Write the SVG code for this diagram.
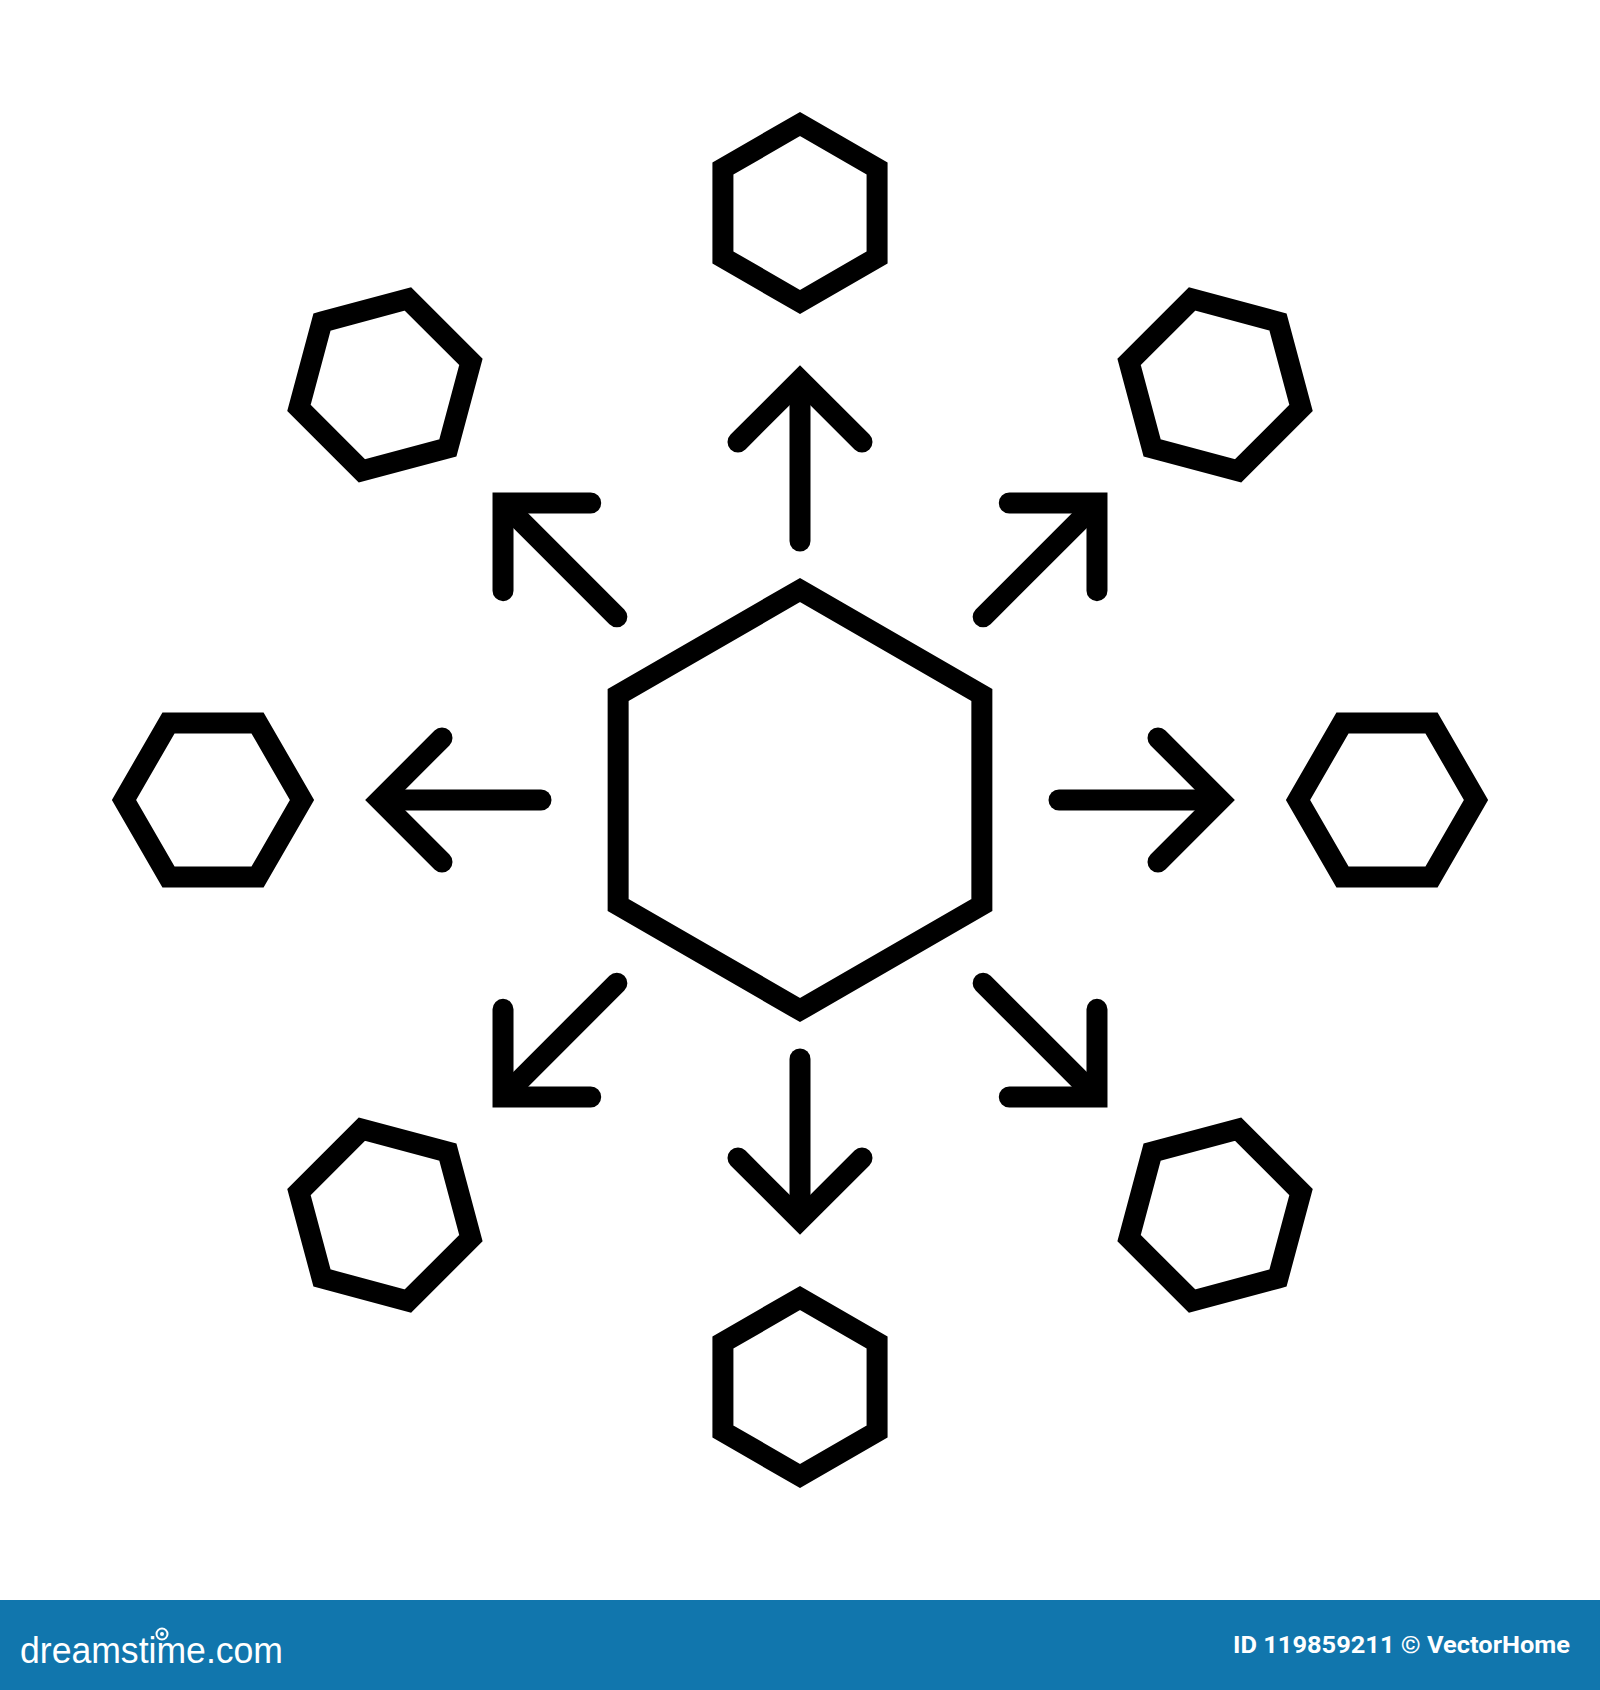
<svg xmlns="http://www.w3.org/2000/svg" xmlns:xlink="http://www.w3.org/1999/xlink" width="1600" height="1690" viewBox="0 0 1600 1690">
<style>
.ln{fill:none;stroke:#000;stroke-width:21;stroke-linejoin:miter;stroke-miterlimit:10;stroke-linecap:round}
.hx{fill:none;stroke:#000;stroke-width:21;stroke-linejoin:miter;stroke-miterlimit:10}
.brand{font-family:"Liberation Sans","DejaVu Sans",sans-serif;fill:#fff}
.idt{font-family:Roboto,"Liberation Sans",sans-serif;fill:#fff;font-weight:bold}
</style>
<defs>
<path id="smallHex" class="hx" d="M800,124 L877.08,168.5 L877.08,257.5 L800,302 L722.92,257.5 L722.92,168.5 Z"/>
<g id="arrowUp">
<path class="ln" d="M800,541 L800,386"/>
<path class="ln" d="M738,442 L800,380 L862,442"/>
</g>
</defs>
<rect x="0" y="0" width="1600" height="1690" fill="#fff"/>

<g id="center-node">
<path class="hx" d="M800,590 L981.86,695 L981.86,905 L800,1010 L618.14,905 L618.14,695 Z"/>
</g>

<g id="node-top"><use xlink:href="#smallHex" href="#smallHex"/></g>
<g id="node-top-right"><use xlink:href="#smallHex" href="#smallHex" transform="rotate(45 800 800)"/></g>
<g id="node-right"><use xlink:href="#smallHex" href="#smallHex" transform="rotate(90 800 800)"/></g>
<g id="node-bottom-right"><use xlink:href="#smallHex" href="#smallHex" transform="rotate(135 800 800)"/></g>
<g id="node-bottom"><use xlink:href="#smallHex" href="#smallHex" transform="rotate(180 800 800)"/></g>
<g id="node-bottom-left"><use xlink:href="#smallHex" href="#smallHex" transform="rotate(225 800 800)"/></g>
<g id="node-left"><use xlink:href="#smallHex" href="#smallHex" transform="rotate(270 800 800)"/></g>
<g id="node-top-left"><use xlink:href="#smallHex" href="#smallHex" transform="rotate(315 800 800)"/></g>

<g id="connectors">
<use xlink:href="#arrowUp" href="#arrowUp"/>
<use xlink:href="#arrowUp" href="#arrowUp" transform="rotate(45 800 800)"/>
<use xlink:href="#arrowUp" href="#arrowUp" transform="rotate(90 800 800)"/>
<use xlink:href="#arrowUp" href="#arrowUp" transform="rotate(135 800 800)"/>
<use xlink:href="#arrowUp" href="#arrowUp" transform="rotate(180 800 800)"/>
<use xlink:href="#arrowUp" href="#arrowUp" transform="rotate(225 800 800)"/>
<use xlink:href="#arrowUp" href="#arrowUp" transform="rotate(270 800 800)"/>
<use xlink:href="#arrowUp" href="#arrowUp" transform="rotate(315 800 800)"/>
</g>

<g id="banner">
<rect x="0" y="1600" width="1600" height="90" fill="#1176ad"/>
<circle cx="162" cy="1634" r="5.5" fill="none" stroke="#fff" stroke-width="2"/>
<circle cx="162" cy="1634" r="2" fill="#fff"/>
<text class="brand" x="20" y="1663" font-size="37" textLength="263" lengthAdjust="spacingAndGlyphs">dreamstime.com</text>
<text class="idt" x="1233" y="1653" font-size="24" textLength="337" lengthAdjust="spacingAndGlyphs">ID 119859211 © VectorHome</text>
</g>
</svg>
